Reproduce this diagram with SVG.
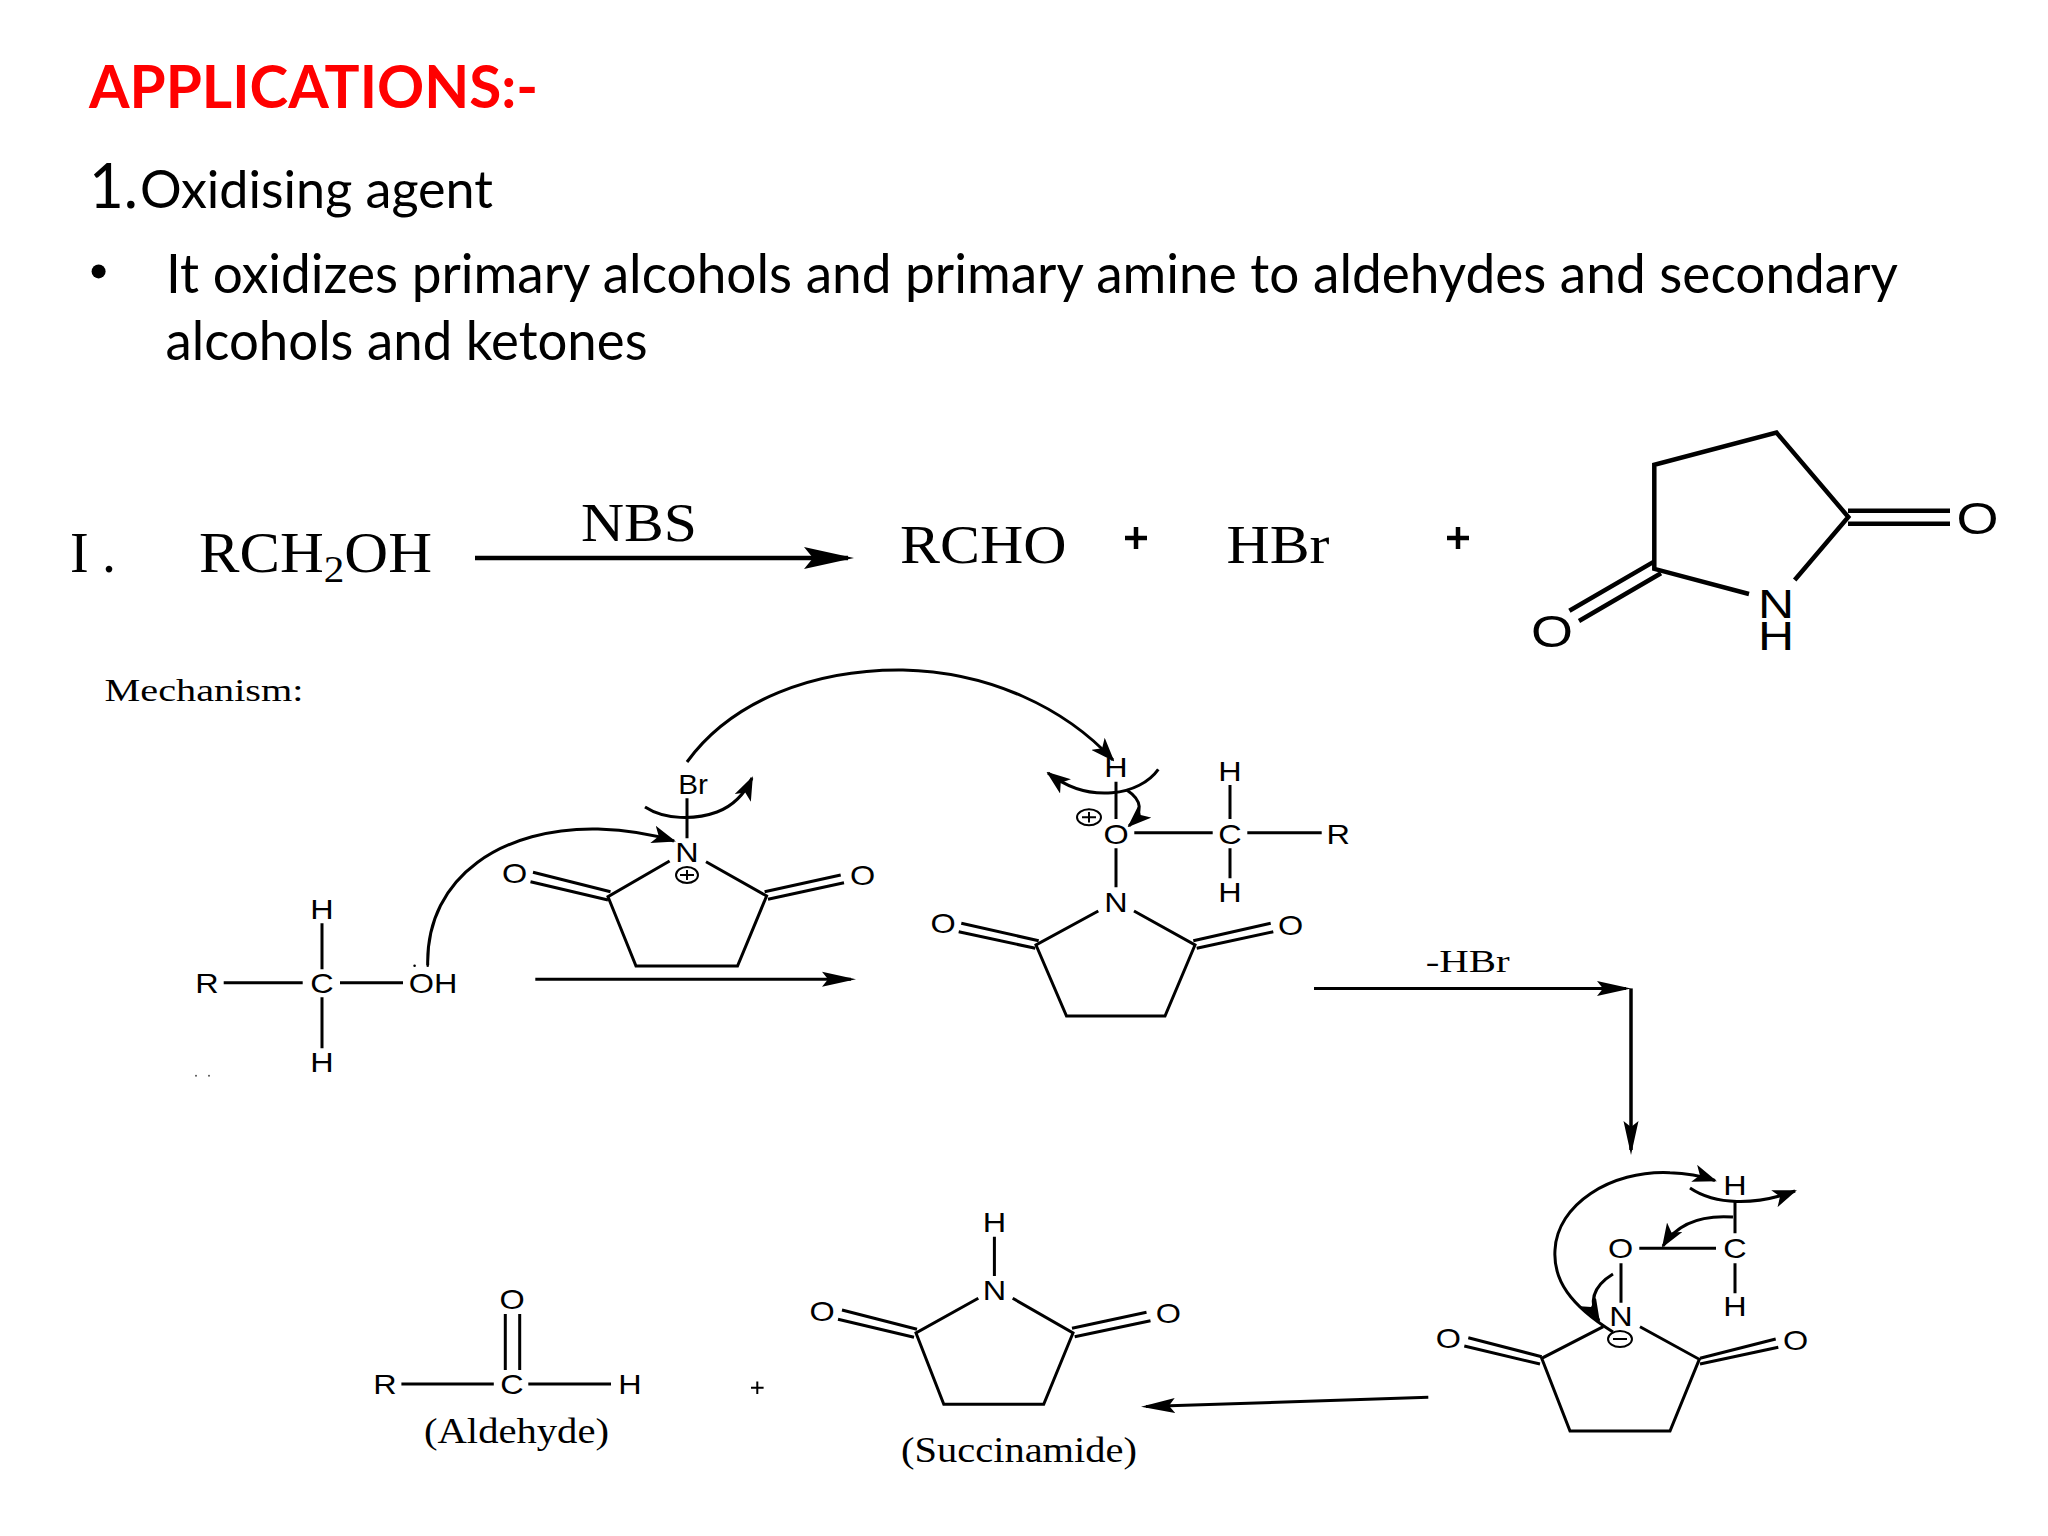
<svg xmlns="http://www.w3.org/2000/svg" width="2048" height="1536" viewBox="0 0 2048 1536">
<style>
.h{font-family:Lato,"Open Sans",sans-serif;fill:#000}
.t{font-family:"Liberation Serif","Times New Roman",serif;fill:#000}
.a{font-family:"Liberation Sans",Arial,sans-serif;font-size:27px;text-anchor:middle;fill:#000}
.big{font-family:"Liberation Sans",Arial,sans-serif;font-size:45px;text-anchor:middle;fill:#000}
.nh{font-family:"Liberation Sans",Arial,sans-serif;font-size:40px;text-anchor:middle;fill:#000}
.b{stroke:#000;stroke-width:3;fill:none;stroke-linejoin:miter}
.B{stroke:#000;stroke-width:4.5;fill:none;stroke-linejoin:miter}
.c{stroke:#000;stroke-width:3;fill:none}
.thin{stroke-width:2}
</style>
<defs>
<marker id="mL" markerUnits="userSpaceOnUse" markerWidth="50" markerHeight="24" viewBox="0 0 50 24" refX="44" refY="12" orient="auto"><path d="M0 1L50 12L0 23L9 12Z"/></marker>
<marker id="mS" markerUnits="userSpaceOnUse" markerWidth="34" markerHeight="16" viewBox="0 0 34 16" refX="29" refY="8" orient="auto"><path d="M0 0.5L34 8L0 15.5L6 8Z"/></marker>
<marker id="mC" markerUnits="userSpaceOnUse" markerWidth="24" markerHeight="18" viewBox="0 0 24 18" refX="22" refY="9" orient="auto"><path d="M0 0L24 9L0 18L6 9Z"/></marker>
</defs>
<rect width="2048" height="1536" fill="#fff"/>

<g id="heading">
<text class="h" x="89" y="108" font-size="60" font-weight="700" style="fill:#ff0000" textLength="449" lengthAdjust="spacingAndGlyphs">APPLICATIONS:-</text>
<text class="h" x="89" y="207.5" font-size="62" textLength="49" lengthAdjust="spacingAndGlyphs">1.</text>
<text class="h" x="140" y="207.5" font-size="52" textLength="353" lengthAdjust="spacingAndGlyphs">Oxidising agent</text>
<circle cx="98.6" cy="271.4" r="7"/>
<text class="h" x="166" y="292.5" font-size="54" textLength="1732" lengthAdjust="spacingAndGlyphs">It oxidizes primary alcohols and primary amine to aldehydes and secondary</text>
<text class="h" x="165.5" y="360" font-size="54" textLength="482" lengthAdjust="spacingAndGlyphs">alcohols and ketones</text>
</g>

<g id="overall-reaction">
<text class="t" x="70" y="572" font-size="56" textLength="46" lengthAdjust="spacing">I .</text>
<text class="t" x="199" y="572" font-size="56" textLength="233" lengthAdjust="spacingAndGlyphs">RCH<tspan font-size="38" dy="10">2</tspan><tspan dy="-10">OH</tspan></text>
<text class="t" x="581" y="541" font-size="54" textLength="116" lengthAdjust="spacingAndGlyphs">NBS</text>
<text class="t" x="900" y="562.6" font-size="54" textLength="166.5" lengthAdjust="spacingAndGlyphs">RCHO</text>
<text class="t" x="1226.5" y="563" font-size="54" textLength="103" lengthAdjust="spacingAndGlyphs">HBr</text>
<path class="B" d="M1125 538H1147M1136 527V549M1447 538H1469M1458 527V549"/>
</g>

<g id="succinimide-top">
<polyline class="B" points="1794.7,580 1848.3,517 1776.5,432.6 1654.3,464.7 1654.3,568.8 1749,594"/>
<path class="B" d="M1848 510.7H1950M1848 523.7H1950M1654 561.6L1569.4 610.7M1661 573.2L1579 621"/>
<text class="big" transform="translate(1977.6 534) scale(1.2 1)">O</text>
<text class="big" transform="translate(1552 647) scale(1.2 1)">O</text>
<text class="nh" transform="translate(1776 618) scale(1.25 1)">N</text>
<text class="nh" transform="translate(1776 650) scale(1.25 1)">H</text>
</g>

<g id="mechanism-label"><text class="t" x="104.5" y="701" font-size="32" textLength="199" lengthAdjust="spacingAndGlyphs">Mechanism:</text></g>

<g id="alcohol">
<path class="b" d="M223.7 982.7H302.7M340 982.7H403M322 923.3V969.3M322 997.3V1048.3"/>
<text class="a" transform="translate(207 993) scale(1.2 1)">R</text>
<text class="a" transform="translate(322 993) scale(1.2 1)">C</text>
<text class="a" transform="translate(322 919) scale(1.2 1)">H</text>
<text class="a" transform="translate(322 1072) scale(1.2 1)">H</text>
<text class="a" transform="translate(433 993) scale(1.2 1)">OH</text>
<circle cx="414.6" cy="965.7" r="1.3"/><circle cx="427.7" cy="965.7" r="1.3"/>
<circle cx="196" cy="1075.7" r="1" fill="#555"/><circle cx="209" cy="1075.7" r="1" fill="#555"/>
</g>

<g id="nbs-cation">
<polyline class="b" points="669.6,861 608,896.7 636,966 737.5,966 766.6,896 706,861.7"/>
<path class="b" d="M687 798.3V838.3M533 872.3L610.5 891.7M530.5 881.7L608 900M764.6 891.7L840.7 875M768 899.3L844 882.7"/>
<text class="a" transform="translate(693 794) scale(1.1 1)">Br</text>
<text class="a" transform="translate(687 862) scale(1.2 1)">N</text>
<text class="a" transform="translate(514.5 883) scale(1.2 1)">O</text>
<text class="a" transform="translate(862.5 885) scale(1.2 1)">O</text>
<ellipse class="b thin" cx="687" cy="875" rx="11" ry="8"/>
<path class="b thin" d="M680 875H694M687 870V880"/>
</g>

<g id="oxonium">
<polyline class="b" points="1098.3,911 1036,945 1066.5,1016 1165,1016 1195,945 1134,911"/>
<path class="b" d="M1116 781.7V819M1116 848.3V887.3M1134.3 832.7H1212.7M1247.3 832.7H1321.7M1230 785V819M1230 848.3V878.3M1193.3 940.7L1270.7 923.3M1196.7 948.3L1273.3 931.7M1038.7 940.7L961.3 923.3M1035.3 948.3L958.7 931.7"/>
<text class="a" transform="translate(1116 776.5) scale(1.2 1)">H</text>
<text class="a" transform="translate(1116 843.5) scale(1.2 1)">O</text>
<text class="a" transform="translate(1230 843.5) scale(1.2 1)">C</text>
<text class="a" transform="translate(1338.3 843.5) scale(1.2 1)">R</text>
<text class="a" transform="translate(1230 780.5) scale(1.2 1)">H</text>
<text class="a" transform="translate(1230 901.5) scale(1.2 1)">H</text>
<text class="a" transform="translate(1116 911.5) scale(1.2 1)">N</text>
<text class="a" transform="translate(1290.7 934.5) scale(1.2 1)">O</text>
<text class="a" transform="translate(943 932.5) scale(1.2 1)">O</text>
<ellipse class="b thin" cx="1089" cy="817.3" rx="12" ry="8"/>
<path class="b thin" d="M1082 817.3H1096M1089 812V822.6"/>
</g>

<g id="n-oxy-intermediate">
<polyline class="b" points="1603.3,1326.7 1541.7,1358.3 1570,1431 1670,1431 1699.3,1359.3 1640,1326.7"/>
<path class="b" d="M1639.3 1248.3H1716M1621 1263.3V1302.7M1735 1201.7V1233.3M1735 1263.3V1293.3M1468.3 1337.7L1541.7 1356.7M1464.3 1346L1540 1364M1700 1358.3L1775.7 1339M1700 1364L1778.3 1347.3"/>
<text class="a" transform="translate(1735 1195) scale(1.2 1)">H</text>
<text class="a" transform="translate(1735 1258) scale(1.2 1)">C</text>
<text class="a" transform="translate(1735 1316) scale(1.2 1)">H</text>
<text class="a" transform="translate(1620.7 1258) scale(1.2 1)">O</text>
<text class="a" transform="translate(1621 1326) scale(1.2 1)">N</text>
<text class="a" transform="translate(1448.3 1347.5) scale(1.2 1)">O</text>
<text class="a" transform="translate(1795.7 1349.5) scale(1.2 1)">O</text>
<ellipse class="b thin" cx="1620" cy="1339" rx="12" ry="8"/>
<path class="b thin" d="M1613 1339H1627"/>
</g>

<g id="aldehyde">
<path class="b" d="M401.4 1384H493.8M528.3 1384H611M505.3 1314V1370M519.7 1314V1370"/>
<text class="a" transform="translate(385 1394) scale(1.2 1)">R</text>
<text class="a" transform="translate(512 1394) scale(1.2 1)">C</text>
<text class="a" transform="translate(630 1394) scale(1.2 1)">H</text>
<text class="a" transform="translate(512 1309) scale(1.2 1)">O</text>
<text class="t" x="424" y="1443" font-size="35" textLength="185" lengthAdjust="spacingAndGlyphs">(Aldehyde)</text>
</g>

<g id="plus-products"><path class="c thin" d="M751 1387.7H763.6M757.3 1381.5V1394"/></g>

<g id="succinimide-bottom">
<polyline class="b" points="978.3,1298.3 916,1333 943.8,1404.3 1043.7,1404.3 1073,1333 1012.7,1298.3"/>
<path class="b" d="M994.4 1236.7V1276M842 1310L917 1329.3M838 1319.3L914 1337.3M1072 1328.3L1146.5 1312.3M1074.7 1336.7L1150.5 1320.7"/>
<text class="a" transform="translate(994.4 1231.5) scale(1.2 1)">H</text>
<text class="a" transform="translate(994.4 1299.5) scale(1.2 1)">N</text>
<text class="a" transform="translate(822 1321) scale(1.2 1)">O</text>
<text class="a" transform="translate(1168.3 1323) scale(1.2 1)">O</text>
<text class="t" x="901" y="1462" font-size="35" textLength="236" lengthAdjust="spacingAndGlyphs">(Succinamide)</text>
</g>

<g id="hbr-loss-label"><text class="t" x="1425.7" y="972" font-size="32" textLength="84" lengthAdjust="spacingAndGlyphs">-HBr</text></g>

<g id="connectors">
<path class="B" marker-end="url(#mL)" d="M475 558H848"/>
<path class="c" marker-end="url(#mS)" d="M535.3 979.3H851"/>
<path class="c" marker-end="url(#mS)" d="M1314 988.4H1626"/>
<path class="c" style="stroke-width:3.5" marker-end="url(#mS)" d="M1631 988.4V1150"/>
<path class="c" marker-end="url(#mS)" d="M1428.3 1397.3L1146 1406.5"/>
<path class="c" marker-end="url(#mC)" d="M427.7 965C426 875 505 827 598 829C625 830 652 834 674 841"/>
<path class="c" marker-end="url(#mC)" d="M645 807C665 820 695 820 717 812C733 806 745 793 752 778"/>
<path class="c" marker-end="url(#mC)" d="M687 762C732 700 815 669 903 670C990 672 1065 708 1113 760"/>
<path class="c" marker-end="url(#mC)" d="M1158.3 769.3C1140 795 1090 805 1048 773"/>
<path class="c" marker-end="url(#mC)" d="M1126.7 790C1142 800 1144 812 1129 826"/>
<path class="c" marker-end="url(#mC)" d="M1613 1332C1570 1305 1553 1280 1555 1250C1557 1205 1610 1170 1670 1172.7C1687 1173 1702 1176 1715 1180.5"/>
<path class="c" marker-end="url(#mC)" d="M1690 1188C1715 1205 1755 1206 1795 1191"/>
<path class="c" marker-end="url(#mC)" d="M1733 1217C1705 1215 1678 1222 1663 1246"/>
<path class="c" marker-end="url(#mC)" d="M1613 1274C1595 1285 1587 1300 1599 1321"/>
</g>
</svg>
